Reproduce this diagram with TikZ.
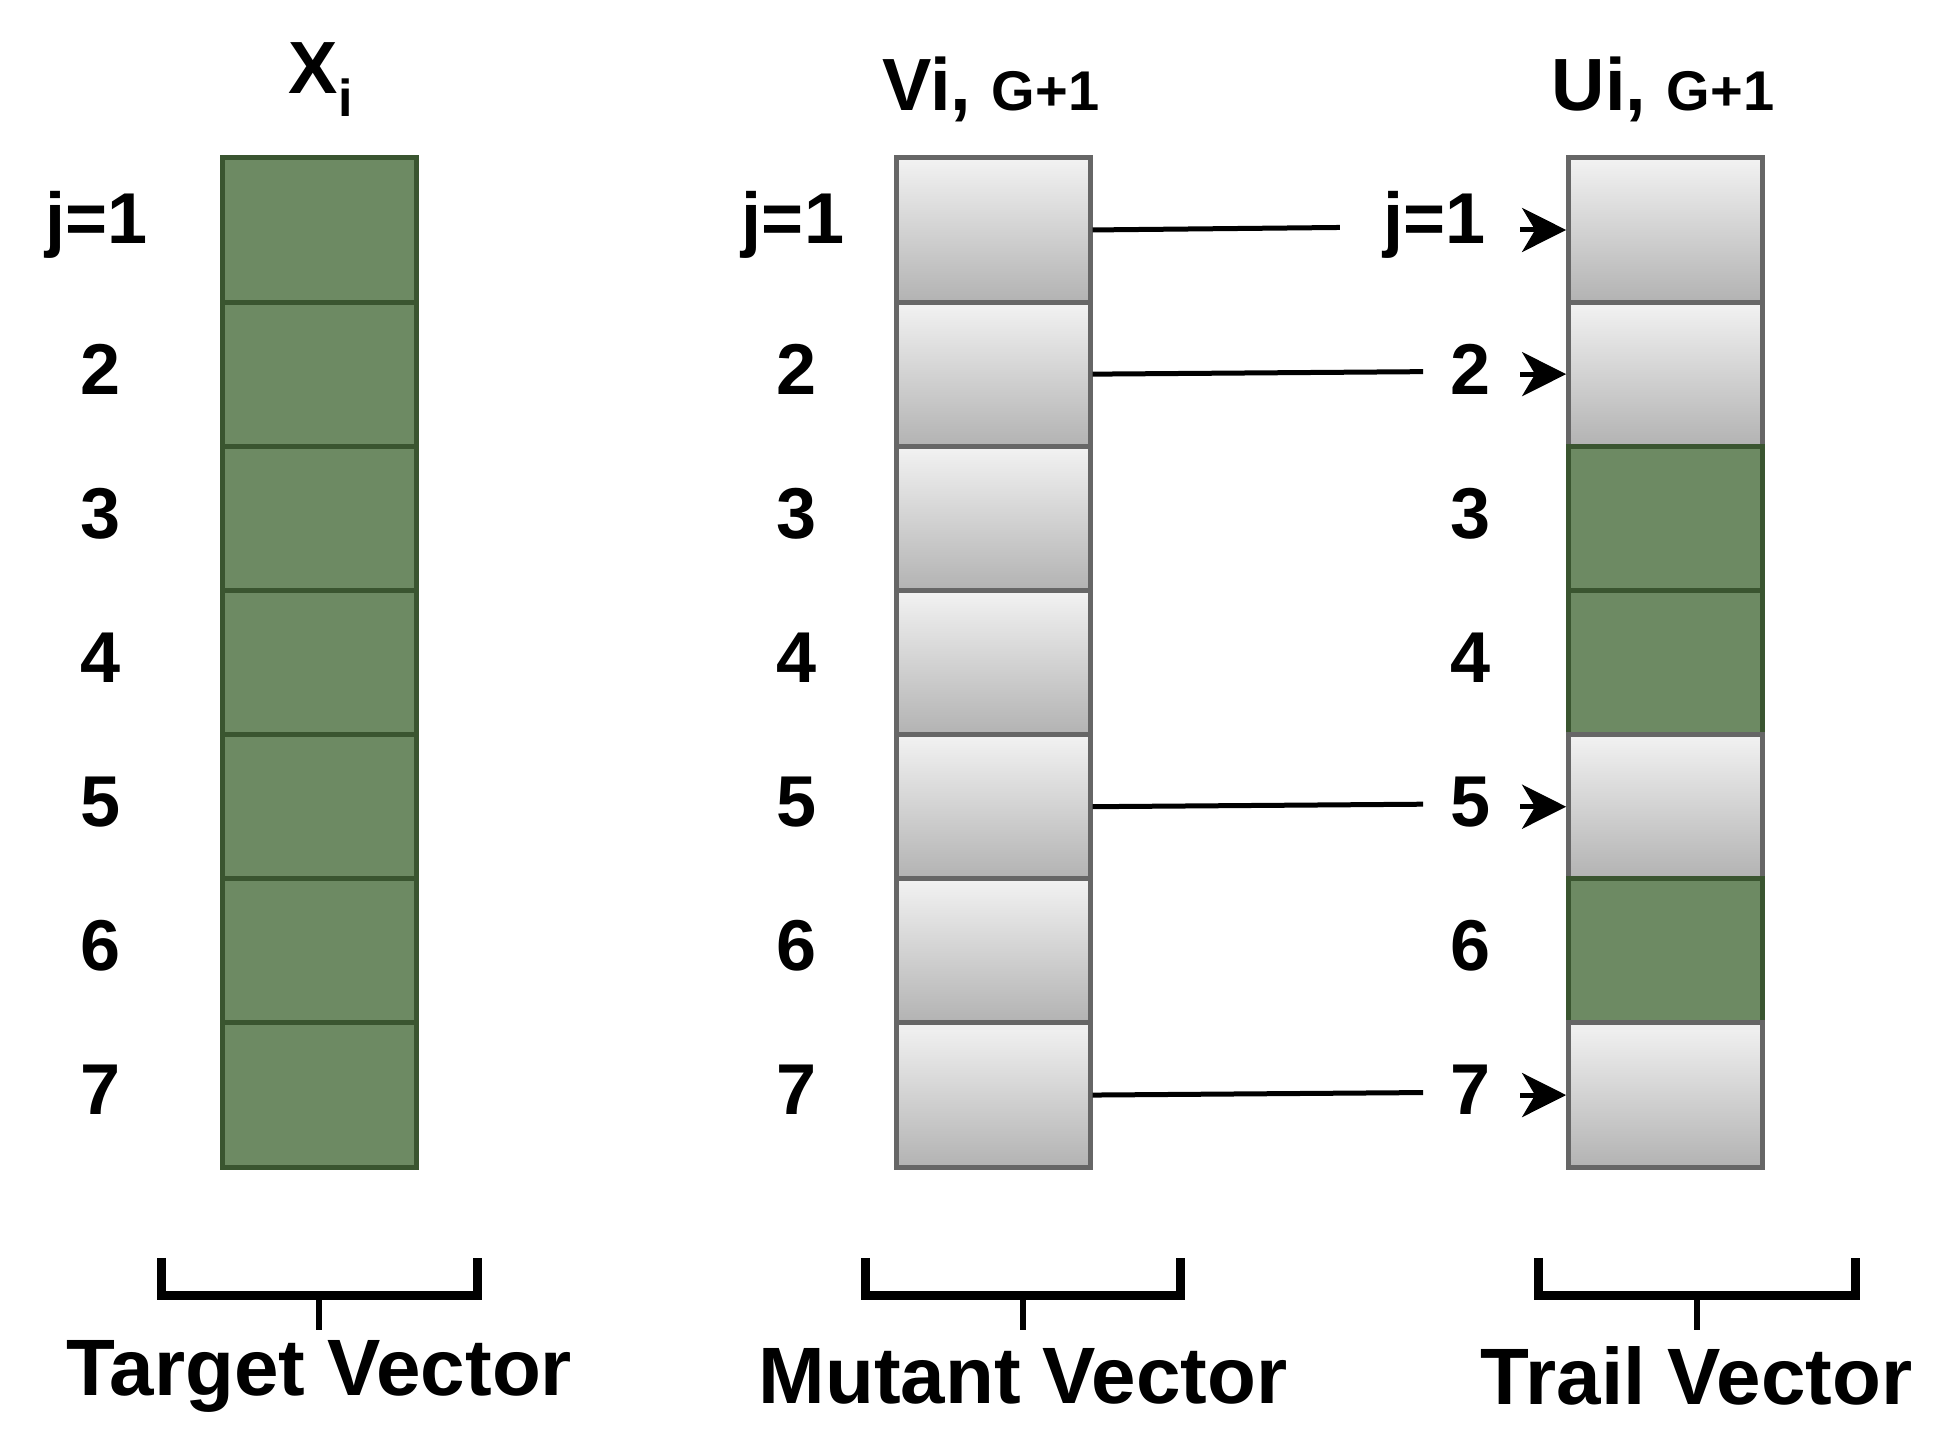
\documentclass[tikz,border=0pt]{standalone}
\usepackage{fontspec}
\setmainfont{Liberation Sans}
\usetikzlibrary{arrows.meta}
\definecolor{gfill}{HTML}{6D8A63}
\definecolor{gdraw}{HTML}{3A5530}
\definecolor{sdraw}{HTML}{666666}
\begin{document}
\begin{tikzpicture}[x=1.243pt,y=-1.243pt,
  gcell/.style={fill=gfill,draw=gdraw,line width=5pt},
  scell/.style={top color=gray!10,bottom color=gray!60,draw=sdraw,line width=5pt},
  lab/.style={font=\fontsize{72}{72}\bfseries\selectfont,anchor=center},
  ttl/.style={font=\fontsize{74}{74}\bfseries\selectfont},
  bot/.style={font=\fontsize{80}{80}\bfseries\selectfont},
  conn/.style={line width=5pt},
  arr/.style={line width=5pt,-{Stealth[length=44pt,width=44pt,inset=13pt]}},
  brk/.style={line width=9pt},
  stem/.style={line width=6pt}]
\useasboundingbox (0,0) rectangle (1560,1167);
% cells
\foreach \r in {1,...,7}{
  \pgfmathsetmacro\yt{125+116*(\r-1)}
  \node[gcell,minimum width=156*1.243pt,minimum height=116*1.243pt,inner sep=0,anchor=north west] (t\r) at (177,\yt) {};
  \node[scell,minimum width=156*1.243pt,minimum height=116*1.243pt,inner sep=0,anchor=north west] (m\r) at (719,\yt) {};
}
\foreach \r/\s in {1/scell,2/scell,3/gcell,4/gcell,5/scell,6/gcell,7/scell}{
  \pgfmathsetmacro\yt{125+116*(\r-1)}
  \node[\s,minimum width=156*1.243pt,minimum height=116*1.243pt,inner sep=0,anchor=north west] (u\r) at (1260,\yt) {};
}
% labels
\node[lab] (lt1) at (78,181) {j=1};
\node[lab] (lm1) at (638,181) {j=1};
\node[lab] (lu1) at (1154,181) {j=1};
\foreach \r/\y in {2/297,3/413,4/529,5/645,6/761,7/877}{
  \node[lab] (lt\r) at (81,\y) {\r};
  \node[lab] (lm\r) at (641,\y) {\r};
  \node[lab] (lu\r) at (1183,\y) {\r};
}
% titles
\node[ttl] (tx) at (258,64) {X\raisebox{-0.3em}{\fontsize{52}{52}\selectfont i}};
\node[ttl] (tv) at (797,72) {Vi, {\fontsize{56}{56}\selectfont G+1}};
\node[ttl] (tu) at (1338,72) {Ui, {\fontsize{56}{56}\selectfont G+1}};
% connectors
\coordinate (e1) at (1078,183);
\coordinate (e2) at (1145,299);
\coordinate (e5) at (1145,647);
\coordinate (e7) at (1145,879);
\foreach \r in {1,2,5,7}{
  \draw[conn] (m\r.east) -- (e\r);
  \coordinate (a\r) at ([xshift=-46pt]u\r.west);
  \draw[arr] (a\r) -- (u\r.west);
}
% brackets
\foreach \n/\xl/\xr/\xm/\t in {bt/130/384/257/Target Vector,bm/696/950/823/Mutant Vector,bu/1238/1493/1365/Trail Vector}{
  \draw[brk] (\xl,1012) -- (\xl,1042) -- (\xr,1042) -- (\xr,1012);
  \draw[stem] (\xm,1042) -- (\xm,1070);
  \node[bot] (\n) at (\xm,1107) {\t};
}
\end{tikzpicture}
\end{document}
